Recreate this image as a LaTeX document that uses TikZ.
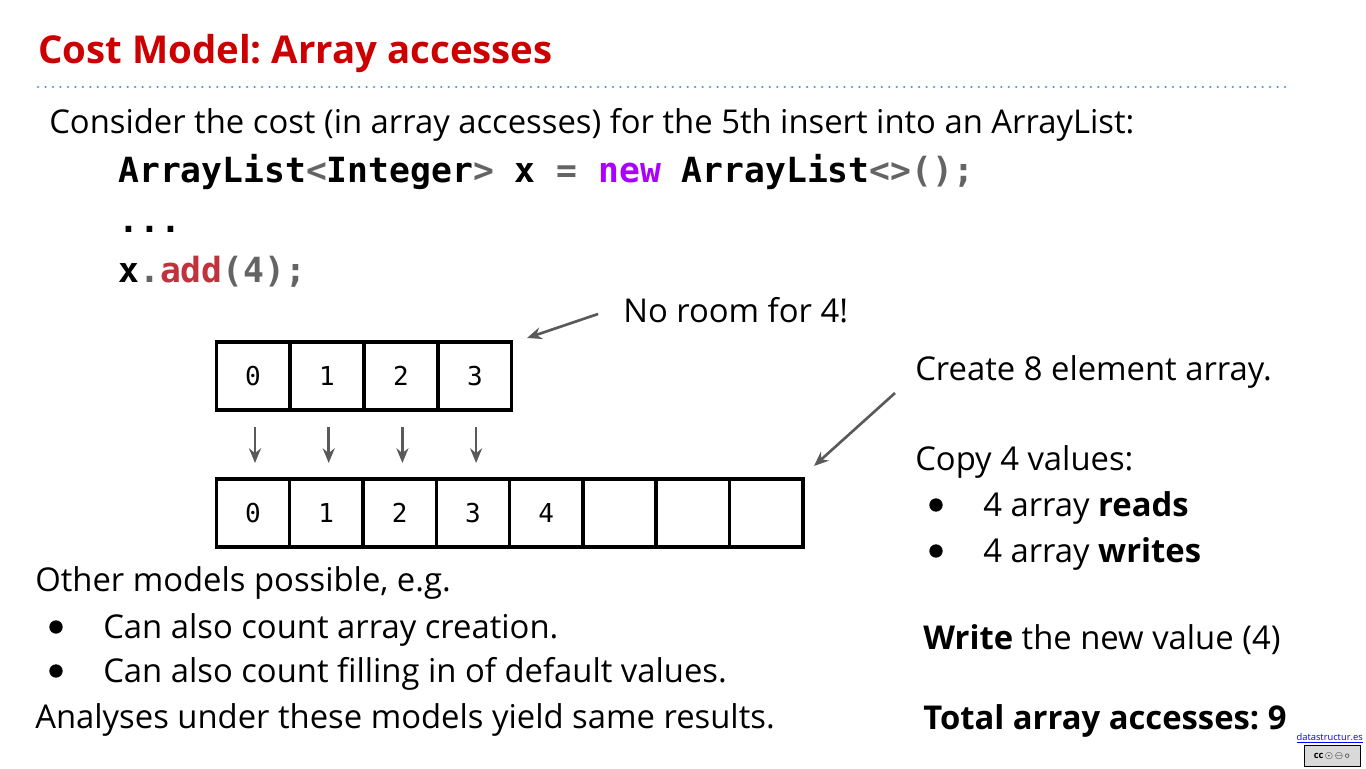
\documentclass[tikz,border=0pt]{standalone}
\usepackage{fontspec}
\setmainfont{Open Sans}
\newfontfamily\codefont{DejaVu Sans Mono}
\usetikzlibrary{arrows.meta}
\definecolor{titlered}{RGB}{204,0,0}
\definecolor{dotblue}{RGB}{60,150,220}
\definecolor{kwpurple}{RGB}{170,0,255}
\definecolor{fnred}{RGB}{192,50,60}
\definecolor{opgrey}{RGB}{100,100,100}
\definecolor{arrgrey}{RGB}{90,90,90}
\frenchspacing
\begin{document}
\begin{tikzpicture}[x=0.75pt,y=-0.75pt,
  txt/.style={anchor=base west,inner sep=0pt,font=\fontsize{24.6}{28}\selectfont},
  code/.style={anchor=base west,inner sep=0pt,font=\codefont\bfseries\fontsize{26}{30}\selectfont},
  cell/.style={draw,line width=2.6pt,minimum width=55pt,minimum height=51pt,inner sep=0pt,font=\codefont\fontsize{19.5}{22}\selectfont},
  garr/.style={arrgrey,line width=2pt,-{Stealth[length=11pt,width=9pt]}},
  bul/.style={fill=black,circle,inner sep=0pt,minimum size=10pt}]
\useasboundingbox (0,0) rectangle (1366,768);
\node[anchor=base west,inner sep=0pt,text=titlered,font=\bfseries\fontsize{28.8}{34}\selectfont] (title) at (38,63) {Cost Model: Array accesses};
\draw[dotblue,line width=1.8pt,dash pattern=on 0.1pt off 5.5pt,line cap=round] (38,87) -- (1292,87);
\node[txt] (t1) at (49,133) {Consider the cost (in array accesses) for the 5th insert into an ArrayList:};
\node[code] (c1) at (118,182) {ArrayList{\color{opgrey}<}Integer{\color{opgrey}>} x {\color{opgrey}=} {\color{kwpurple}new} ArrayList{\color{opgrey}<>();}};
\node[code] (c2) at (118,232) {...};
\node[code] (c3) at (118,282) {x{\color{opgrey}.}{\color{fnred}add}{\color{opgrey}(4);}};
\node[txt] (nr) at (623,322) {No room for 4!};
\foreach \i/\v in {0/0,1/1,2/2,3/3}{
  \node[cell] (a\i) at ({253+74*\i},376) {\v};
}
\foreach \i/\v in {0/0,1/1,2/2,3/3,4/4,5/{},6/{},7/{}}{
  \node[cell] (b\i) at ({253+73.3*\i},513) {\v};
}
\foreach \i in {0,...,3}{
  \coordinate (s\i) at ({255+73.7*\i},427);
  \coordinate (e\i) at ({255+73.7*\i},463);
  \draw[garr] (s\i) -- (e\i);
}
\coordinate (nrs) at (598,314);
\coordinate (nre) at (527,338);
\draw[garr] (nrs) -- (nre);
\coordinate (crs) at (895,393);
\coordinate (cre) at (814,466);
\draw[garr] (crs) -- (cre);
\node[txt] (cr) at (915,380) {Create 8 element array.};
\node[txt] (cp) at (915,470) {Copy 4 values:};
\node[bul] (b1) at (936,505) {};
\node[txt] (r1) at (983,516) {4 array \textbf{reads}};
\node[bul] (b2) at (936,551) {};
\node[txt] (r2) at (983,562) {4 array \textbf{writes}};
\node[txt] (w) at (923,649) {\textbf{Write} the new value (4)};
\node[txt] (tot) at (923,729) {\textbf{Total array accesses: 9}};
\node[txt] (o1) at (35,591) {Other models possible, e.g.};
\node[bul] (b3) at (56,627) {};
\node[txt] (o2) at (103,638) {Can also count array creation.};
\node[bul] (b4) at (56,671) {};
\node[txt] (o3) at (103,682) {Can also count filling in of default values.};
\node[txt] (o4) at (35,728) {Analyses under these models yield same results.};
\node[anchor=base east,inner sep=0pt,text=blue,font=\fontsize{7}{8}\selectfont] (ds) at (1363,740) {\underline{datastructur.es}};
\node[draw,fill=black!15,line width=0.6pt,minimum width=42pt,minimum height=16pt,inner sep=0pt,font=\bfseries\fontsize{7}{8}\selectfont] (cc) at (1332,756) {cc\,$\odot$\,$\ominus$\,$\circ$};
\end{tikzpicture}
\end{document}
